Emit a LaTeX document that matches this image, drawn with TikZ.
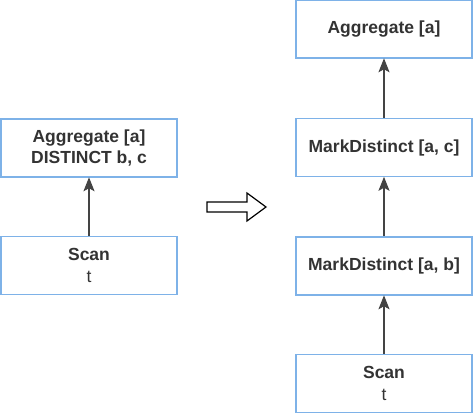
\documentclass[tikz,border=0pt]{standalone}
\usepackage{fontspec}
\setmainfont{Liberation Sans}
\usetikzlibrary{arrows.meta,shapes.arrows}
\definecolor{boxblue}{HTML}{7EB2E8}
\definecolor{txt}{HTML}{333333}
\definecolor{arr}{HTML}{444444}
\tikzset{
  opbox/.style={draw=boxblue, line width=1.5pt, fill=white, minimum width=176pt, minimum height=58pt, inner sep=0pt, align=center, text=txt, font=\fontsize{17.5}{21.5}\selectfont},
  flow/.style={draw=arr, line width=1.5pt, -{Stealth[width=11pt,length=14pt,inset=3pt]}, shorten >=-0.5pt},
}
\begin{document}
\begin{tikzpicture}[x=1pt,y=-1pt]
\useasboundingbox (0,0) rectangle (474,414);
% left
\node[opbox] (agg1) at (89,148) {\textbf{Aggregate [a]}\\\textbf{DISTINCT b, c}};
\node[opbox] (scan1) at (89,265.5) {\textbf{Scan}\\t};
\draw[flow] (scan1.north) -- (agg1.south);
% right
\node[opbox] (agg2) at (384,29) {\textbf{Aggregate [a]}};
\node[opbox] (md2) at (384,147.5) {\textbf{MarkDistinct [a, c]}};
\node[opbox] (md1) at (384,266) {\textbf{MarkDistinct [a, b]}};
\node[opbox] (scan2) at (384,383.5) {\textbf{Scan}\\t};
\draw[flow] (scan2.north) -- (md1.south);
\draw[flow] (md1.north) -- (md2.south);
\draw[flow] (md2.north) -- (agg2.south);
% block arrow
\draw[line width=1.2pt, black, fill=white, line join=miter]
  (207,202) -- (247,202) -- (247,193) -- (266,207) -- (247,221) -- (247,212) -- (207,212) -- cycle;
\end{tikzpicture}
\end{document}
